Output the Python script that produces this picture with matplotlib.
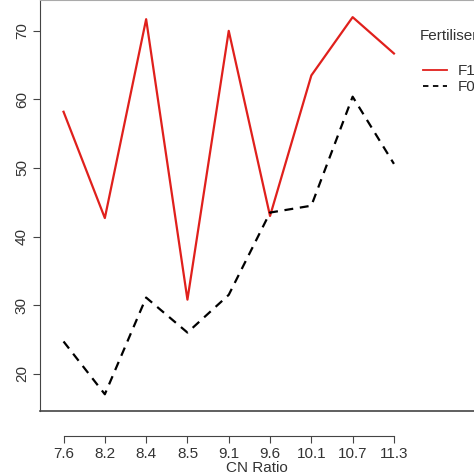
import matplotlib
matplotlib.use("Agg")
import matplotlib.pyplot as plt
from matplotlib.lines import Line2D

categories = ["7.6", "8.2", "8.4", "8.5", "9.1", "9.6", "10.1", "10.7", "11.3"]
f1 = [58.2, 42.7, 71.7, 30.8, 70.0, 43.0, 63.5, 72.0, 66.7]
f0 = [24.7, 17.0, 31.1, 26.0, 31.5, 43.5, 44.5, 60.4, 50.6]
yticks = [20, 30, 40, 50, 60, 70]

plt.rcParams['font.family'] = ['Liberation Sans', 'DejaVu Sans']
fig = plt.figure(figsize=(4.74, 4.74), dpi=100)
ax = fig.add_axes([40/474, 63/474, 434/474, 411/474])
x = list(range(1, len(categories) + 1))
ax.plot(x, f1, color='#e0201c', lw=1.6)
ax.plot(x, f0, color='black', lw=1.6, dashes=(4, 3))
ax.set_xlim(0.43, 0.43 + 434/41.3)
ax.set_ylim(14.56, 74.5)
ax.set_yticks(yticks)
ax.set_yticklabels([str(v) for v in yticks], rotation=90, va='center', fontsize=11, color='#333333')
ax.tick_params(axis='y', direction='out', length=5, color='#444444', pad=3)
ax.spines['right'].set_visible(False)
ax.spines['top'].set_color('#aaaaaa')
ax.spines['left'].set_color('#444444')
ax.spines['bottom'].set_position(('outward', 18))
ax.spines['bottom'].set_bounds(1, len(categories))
ax.spines['bottom'].set_color('#444444')
ax.set_xticks(x)
ax.set_xticklabels(categories, fontsize=11, color='#333333')
ax.tick_params(axis='x', direction='out', length=5, color='#444444', pad=3)
ax.plot([0, 1], [0, 0], transform=ax.transAxes, color='#444444', lw=1.2, clip_on=False)
ax.set_xlabel("CN Ratio", fontsize=11, labelpad=0, color='#333333')

fig.text(420/474, 1 - 36/474, "Fertiliser", fontsize=11, va='center', color='#333333')
fig.add_artist(Line2D([423/474, 447/474], [1 - 70/474]*2, color='#e0201c', lw=1.3))
fig.add_artist(Line2D([423/474, 447/474], [1 - 86/474]*2, color='black', lw=1.3, dashes=(3, 2.5)))
fig.text(458/474, 1 - 71/474, "F1", fontsize=11, va='center', color='#333333')
fig.text(458/474, 1 - 87/474, "F0", fontsize=11, va='center', color='#333333')

fig.savefig("out.png", dpi=100)
